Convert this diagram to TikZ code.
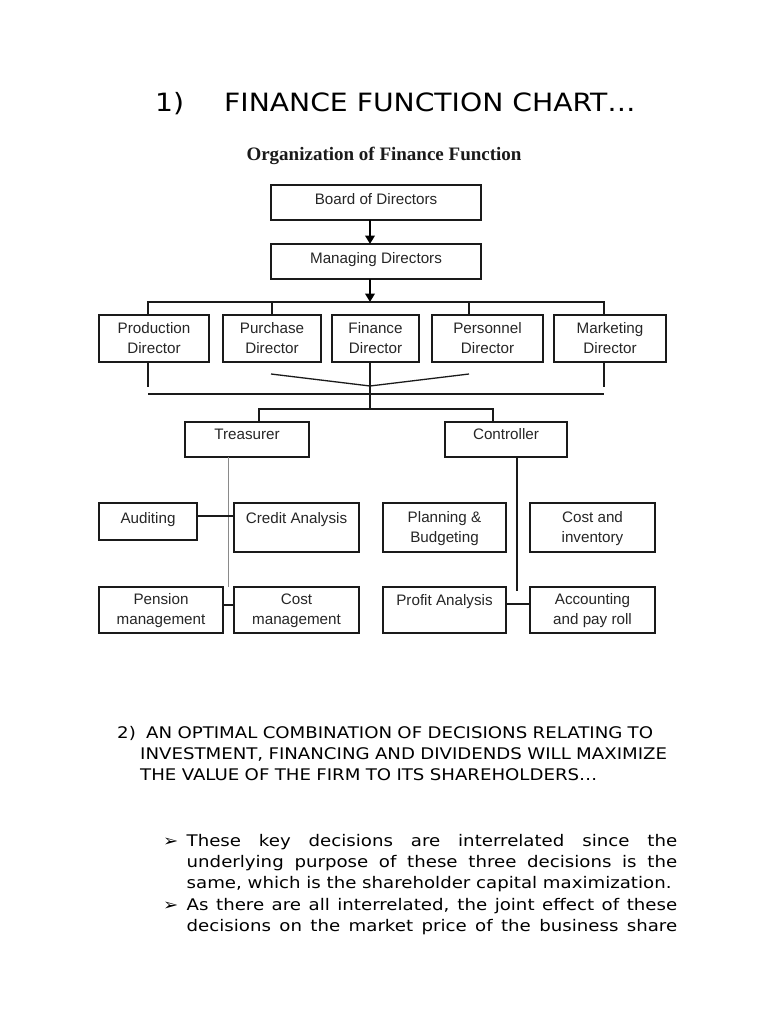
\documentclass[tikz,border=0pt]{standalone}
\usepackage{fontspec}
\setmainfont{DejaVu Sans}
\newfontfamily\arialf{Liberation Sans}
\newfontfamily\timesf{Liberation Serif}
\newfontfamily\bodyf[FakeStretch=1.135]{DejaVu Sans}
\newfontfamily\titlef[FakeStretch=1.12]{DejaVu Sans}
\usetikzlibrary{arrows.meta}
\definecolor{ink}{HTML}{1A1A1A}
\definecolor{boxtext}{HTML}{262626}
\definecolor{thinline}{HTML}{8A8A8A}
\newcommand\obox[5]{\node[box, minimum width={(#4)-(#2)}, minimum height={(#5)-(#3)}] (#1) at ({((#2)+(#4))/2},{((#3)+(#5))/2}) {};}
\begin{document}
\begin{tikzpicture}[x=1pt,y=-1pt,
  box/.style={draw=ink, line width=1.1pt, inner sep=0pt, outer sep=0pt},
  btxt/.style={font=\arialf\fontsize{15.2}{20}\selectfont, text=boxtext, align=center, anchor=base, inner sep=0pt},
  conn/.style={draw=ink, line width=1.3pt},
  thinconn/.style={draw=thinline, line width=0.8pt},
  arr/.style={draw=black, line width=2.4pt, -{Triangle[width=9.5pt,length=8.5pt]}},
  ttl/.style={font=\titlef\fontsize{25.2}{30}\selectfont, anchor=base west, inner sep=0pt, text=black},
  body/.style={font=\bodyf\fontsize{16}{21.4}\selectfont, anchor=base west, inner sep=0pt, text=black}]
\useasboundingbox[fill=white] (0,0) rectangle (768,1024);

% title
\node[ttl] (num1) at (155,111.5) {1)};
\node[ttl] (title) at (224,111.5) {FINANCE FUNCTION CHART…};
\node[font=\timesf\bfseries\fontsize{19}{22}\selectfont, text=ink, anchor=base, inner sep=0pt] (org) at (384,161) {Organization of Finance Function};

% boxes
\obox{board}{271}{185}{481}{220}
\obox{mgr}{271}{244}{481}{279}
\obox{prod}{99}{315}{209}{362}
\obox{pur}{223}{315}{321}{362}
\obox{fin}{332}{315}{419}{362}
\obox{pers}{432}{315}{543}{362}
\obox{mark}{554}{315}{666}{362}
\obox{treas}{185}{422}{309}{457}
\obox{ctrl}{445}{422}{567}{457}
\obox{aud}{99}{503}{197}{540}
\obox{cred}{234}{503}{359}{552}
\obox{plan}{383}{503}{506}{552}
\obox{costinv}{530}{503}{655}{552}
\obox{pens}{99}{587}{223}{633}
\obox{costm}{234}{587}{359}{633}
\obox{prof}{383}{587}{506}{633}
\obox{acct}{530}{587}{655}{633}

% box texts (multi-line nodes are placed at the baseline of their last line)
\node[btxt] (boardt) at (376,205) {Board of Directors};
\node[btxt] (mgrt) at (376,263) {Managing Directors};
\node[btxt] (prodt) at (154,353) {Production\\Director};
\node[btxt] (purt) at (272,353) {Purchase\\Director};
\node[btxt] (fint) at (375.5,353) {Finance\\Director};
\node[btxt] (perst) at (487.5,353) {Personnel\\Director};
\node[btxt] (markt) at (610,353) {Marketing\\Director};
\node[btxt] (treast) at (247,439) {Treasurer};
\node[btxt] (ctrlt) at (506,439) {Controller};
\node[btxt] (audt) at (148,523) {Auditing};
\node[btxt] (credt) at (296.5,523) {Credit Analysis};
\node[btxt] (plant) at (444.5,542) {Planning \&\\Budgeting};
\node[btxt] (costinvt) at (592.5,542) {Cost and\\inventory};
\node[btxt] (penst) at (161,624) {Pension\\management};
\node[btxt] (costmt) at (296.5,624) {Cost\\management};
\node[btxt] (proft) at (444.5,605) {Profit Analysis};
\node[btxt] (acctt) at (592.5,624) {Accounting\\and pay roll};

% junction coordinates
\coordinate (ax) at (370,302);
\coordinate (busL) at (148,302);
\coordinate (busR) at (604,302);
\coordinate (persdrop) at (469,302);
\coordinate (pl) at (148,387);
\coordinate (pr) at (604,387);
\coordinate (sl) at (271,374);
\coordinate (sr) at (469,374);
\coordinate (v) at (370,386);
\coordinate (hl) at (148,394);
\coordinate (hr) at (604,394);
\coordinate (tc) at (370,409);
\coordinate (tl) at (259,409);
\coordinate (tr) at (493,409);
\coordinate (tv) at (228,587);
\coordinate (cv) at (517,591);

% arrows
\draw[arr] (board.south -| ax) -- (mgr.north -| ax);
\draw[arr] (mgr.south -| ax) -- (ax);

% bus to directors
\draw[conn] (prod.north -| busL) -- (busL) -- (busR) -- (mark.north -| busR);
\draw[conn] (pur.north) -- (pur.north |- busL);
\draw[conn] (persdrop) -- (pers.north -| persdrop);

% below directors
\draw[conn] (prod.south -| pl) -- (pl);
\draw[conn] (mark.south -| pr) -- (pr);
\draw[conn] (sl) -- (v) -- (sr);
\draw[conn] (hl) -- (hr);
\draw[conn] (fin.south -| tc) -- (tc);
\draw[conn] (treas.north -| tl) -- (tl) -- (tr) -- (ctrl.north -| tr);

% treasurer / controller branches
\draw[thinconn] (treas.south -| tv) -- (tv);
\draw[conn] (ctrl.south -| cv) -- (cv);
\draw[conn] ([yshift=5.5pt]aud.east) -- ([yshift=5.5pt]aud.east -| cred.west);
\draw[conn] ([yshift=5pt]pens.east) -- ([yshift=5pt]pens.east -| costm.west);
\draw[conn] ([yshift=6pt]prof.east) -- ([yshift=6pt]prof.east -| acct.west);

% text section 2
\node[body] (num2) at (117,738) {2)};
\node[body, text width=560pt, align=left] (para2) at (140,738) {\hspace*{6pt}AN OPTIMAL COMBINATION OF DECISIONS RELATING TO\\INVESTMENT, FINANCING AND DIVIDENDS WILL MAXIMIZE\\THE VALUE OF THE FIRM TO ITS SHAREHOLDERS…};

\node[body] (b1) at (163,846) {➢};
\node[body, text width=490.5pt, align=justify] (bul1) at (186.5,846) {These key decisions are interrelated since the\linebreak underlying purpose of these three decisions is the\linebreak same, which is the shareholder capital maximization.};
\node[body] (b2) at (163,910) {➢};
\node[body, text width=490.5pt, align=justify] (bul2) at (186.5,910) {\parfillskip=0pt As there are all interrelated, the joint effect of these\linebreak decisions on the market price of the business share\par};
\end{tikzpicture}
\end{document}
